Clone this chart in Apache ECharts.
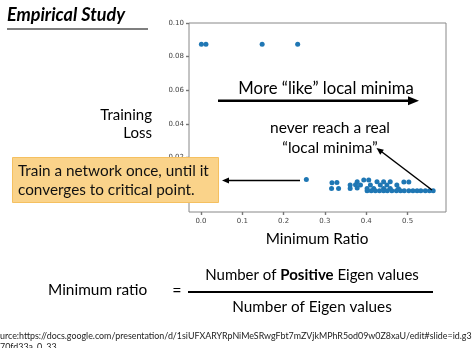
<!DOCTYPE html>
<html><head><meta charset="utf-8">
<script src="https://cdn.jsdelivr.net/npm/echarts@6/dist/echarts.min.js"></script>
<style>html,body{margin:0;padding:0;background:#fff}#c{width:474px;height:348px}</style>
</head><body><div id="c"></div>
<script>
// Data: [minimum ratio, training loss]
const minimumRatio = [0.001,0.012,0.148,0.234,0.255,
 0.317,0.329,0.316,0.333,
 0.394,0.406,
 0.378,0.426,0.442,0.458,0.491,0.503,
 0.361,0.374,0.386,0.410,0.434,0.450,0.474,
 0.361,0.378,0.402,0.418,0.442,0.458,0.478,
 0.402,0.412,0.422,0.432,0.442,0.451,0.462,0.473,0.483,0.492,0.503,0.513,0.523,0.532,0.543,0.553,0.562];
const trainingLoss = [0.0874,0.0874,0.0874,0.0874,0.0070,
 0.0050,0.0052,0.0016,0.0016,
 0.0066,0.0066,
 0.0056,0.0056,0.0056,0.0056,0.0054,0.0054,
 0.0036,0.0038,0.0036,0.0036,0.0036,0.0036,0.0036,
 0.0016,0.0018,0.0016,0.0016,0.0016,0.0016,0.0014,
 0.0002,0.0002,0.0002,0.0002,0.0002,0.0002,0.0002,0.0002,0.0002,0.0002,0.0002,0.0002,0.0002,0.0002,0.0002,0.0002,0.0002];
const xTicks = [0,0.1,0.2,0.3,0.4,0.5];
const yTicks = [0,0.02,0.04,0.06,0.08,0.10];

const points = minimumRatio.map((x,i)=>[x,trainingLoss[i]]);
const F = 'Lato, "Open Sans", sans-serif';
const chart = echarts.init(document.getElementById('c'), null, {renderer:'canvas'});
function arrowHead(tipX, tipY, dx, dy, len, w){
  const L=Math.hypot(dx,dy); const ux=dx/L, uy=dy/L; const px=-uy, py=ux;
  return {type:'polygon', z:101, shape:{points:[[tipX,tipY],[tipX-ux*len+px*w,tipY-uy*len+py*w],[tipX-ux*len-px*w,tipY-uy*len-py*w]]}, style:{fill:'#000'}};
}
chart.setOption({
  animation:false,
  grid:{left:189, top:23, right:28, bottom:136, show:true, borderColor:'#888', borderWidth:1, backgroundColor:'transparent'},
  xAxis:{type:'value', min:-0.029, max:0.593, splitLine:{show:false},
    axisLine:{show:false, onZero:false},
    axisTick:{show:true, length:3, lineStyle:{color:'#777', width:1.4}, customValues:xTicks},
    axisLabel:{fontSize:7, color:'#444', fontFamily:'DejaVu Sans', margin:6, customValues:xTicks, formatter:v=>v.toFixed(1)}},
  yAxis:{type:'value', min:-0.0124, max:0.1, splitLine:{show:false},
    axisLine:{show:false, onZero:false},
    axisTick:{show:true, length:3, lineStyle:{color:'#777', width:1.4}, customValues:yTicks},
    axisLabel:{fontSize:7, color:'#444', fontFamily:'DejaVu Sans', margin:5, customValues:yTicks, formatter:v=>v.toFixed(2)}},
  series:[{type:'scatter', data:points, symbolSize:5, itemStyle:{color:'#1f77b4', opacity:1}}],
  graphic:[
    {type:'text', left:7, top:6, z:100, style:{text:'Empirical Study', font:'italic bold 18px '+F, fill:'#000'}},
    {type:'line', z:100, shape:{x1:7,y1:29,x2:148,y2:29}, style:{stroke:'#000', lineWidth:1.2}},
    {type:'text', z:100, x:152, y:115, style:{text:'Training', font:'15px '+F, fill:'#000', align:'right', verticalAlign:'middle'}},
    {type:'text', z:100, x:152, y:133, style:{text:'Loss', font:'15px '+F, fill:'#000', align:'right', verticalAlign:'middle'}},
    {type:'text', z:100, x:326, y:89, style:{text:'More \u201clike\u201d local minima', font:'16.7px '+F, fill:'#000', align:'center', verticalAlign:'middle'}},
    {type:'line', z:100, shape:{x1:218,y1:100.7,x2:408,y2:100.7}, style:{stroke:'#000', lineWidth:2.5}},
    arrowHead(419,100.7,1,0,11,4.5),
    {type:'text', z:100, x:330, y:128, style:{text:'never reach a real', font:'15.5px '+F, fill:'#000', align:'center', verticalAlign:'middle'}},
    {type:'text', z:100, x:330, y:148, style:{text:'\u201clocal minima\u201d', font:'15.5px '+F, fill:'#000', align:'center', verticalAlign:'middle'}},
    {type:'line', z:100, shape:{x1:432,y1:190,x2:380,y2:150.5}, style:{stroke:'#000', lineWidth:1.5}},
    arrowHead(376.5,148,-55,-42,7,3),
    {type:'line', z:100, shape:{x1:300,y1:180.5,x2:228,y2:180.5}, style:{stroke:'#000', lineWidth:1.5}},
    arrowHead(222,180.5,-1,0,7,3),
    {type:'rect', z:100, shape:{x:12.5,y:157.5,width:206,height:45}, style:{fill:'#fad38a', stroke:'#f5c060', lineWidth:1}},
    {type:'text', z:101, x:18, y:171, style:{text:'Train a network once, until it', font:'15.3px '+F, fill:'#111', verticalAlign:'middle'}},
    {type:'text', z:101, x:18, y:190, style:{text:'converges to critical point.', font:'15.3px '+F, fill:'#111', verticalAlign:'middle'}},
    {type:'text', z:100, x:317, y:239, style:{text:'Minimum Ratio', font:'15.3px '+F, fill:'#000', align:'center', verticalAlign:'middle'}},
    {type:'text', z:100, x:48, y:290, style:{text:'Minimum ratio', font:'15.4px '+F, fill:'#000', verticalAlign:'middle'}},
    {type:'text', z:100, x:177, y:291, style:{text:'=', font:'16px '+F, fill:'#000', align:'center', verticalAlign:'middle'}},
    {type:'text', z:100, x:312, y:275, style:{rich:{a:{font:'15px '+F, fill:'#000'}, b:{font:'bold 15px '+F, fill:'#000'}}, text:'{a|Number of }{b|Positive}{a| Eigen values}', align:'center', verticalAlign:'middle'}},
    {type:'line', z:100, shape:{x1:188,y1:292,x2:433,y2:292}, style:{stroke:'#000', lineWidth:2}},
    {type:'text', z:100, x:312, y:307, style:{text:'Number of Eigen values', font:'15.3px '+F, fill:'#000', align:'center', verticalAlign:'middle'}},
    {type:'text', z:100, x:0, y:336, style:{text:'urce:https://docs.google.com/presentation/d/1siUFXARYRpNiMeSRwgFbt7mZVjkMPhR5od09w0Z8xaU/edit#slide=id.g3', font:'8.9px '+F, fill:'#222', verticalAlign:'middle'}},
    {type:'text', z:100, x:0, y:347, style:{text:'70fd33a_0_33', font:'8.9px '+F, fill:'#222', verticalAlign:'middle'}}
  ]
});
</script></body></html>
